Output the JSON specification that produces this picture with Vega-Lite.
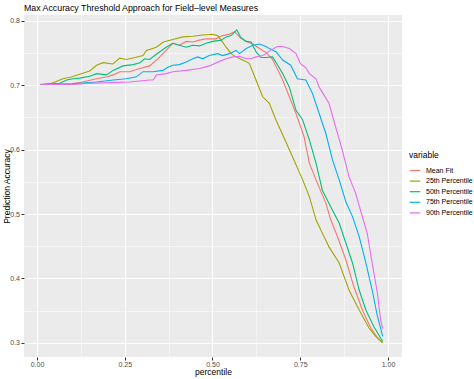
{
  "$schema": "https://vega.github.io/schema/vega-lite/v6.json",
  "width": 378,
  "height": 342,
  "autosize": {"type": "none"},
  "padding": {"left": 24, "top": 15, "right": 72, "bottom": 22},
  "background": "white",
  "title": {
    "text": "Max Accuracy Threshold Approach for Field–level Measures",
    "anchor": "start",
    "frame": "group",
    "fontSize": 8.8,
    "fontWeight": "normal",
    "font": "Liberation Sans",
    "color": "#000000",
    "baseline": "bottom",
    "offset": 2,
    "dy": 9
  },
  "data": {
    "values": [
      {"percentile":0.01,"value":0.701,"variable":"Mean Fit"},
      {"percentile":0.05,"value":0.701,"variable":"Mean Fit"},
      {"percentile":0.10,"value":0.702,"variable":"Mean Fit"},
      {"percentile":0.13,"value":0.705,"variable":"Mean Fit"},
      {"percentile":0.17,"value":0.710,"variable":"Mean Fit"},
      {"percentile":0.20,"value":0.713,"variable":"Mean Fit"},
      {"percentile":0.217,"value":0.716,"variable":"Mean Fit"},
      {"percentile":0.236,"value":0.721,"variable":"Mean Fit"},
      {"percentile":0.264,"value":0.721,"variable":"Mean Fit"},
      {"percentile":0.293,"value":0.726,"variable":"Mean Fit"},
      {"percentile":0.321,"value":0.730,"variable":"Mean Fit"},
      {"percentile":0.344,"value":0.741,"variable":"Mean Fit"},
      {"percentile":0.368,"value":0.754,"variable":"Mean Fit"},
      {"percentile":0.387,"value":0.765,"variable":"Mean Fit"},
      {"percentile":0.406,"value":0.762,"variable":"Mean Fit"},
      {"percentile":0.425,"value":0.768,"variable":"Mean Fit"},
      {"percentile":0.444,"value":0.767,"variable":"Mean Fit"},
      {"percentile":0.463,"value":0.770,"variable":"Mean Fit"},
      {"percentile":0.482,"value":0.772,"variable":"Mean Fit"},
      {"percentile":0.51,"value":0.772,"variable":"Mean Fit"},
      {"percentile":0.529,"value":0.777,"variable":"Mean Fit"},
      {"percentile":0.548,"value":0.779,"variable":"Mean Fit"},
      {"percentile":0.563,"value":0.783,"variable":"Mean Fit"},
      {"percentile":0.58,"value":0.773,"variable":"Mean Fit"},
      {"percentile":0.596,"value":0.768,"variable":"Mean Fit"},
      {"percentile":0.615,"value":0.764,"variable":"Mean Fit"},
      {"percentile":0.634,"value":0.757,"variable":"Mean Fit"},
      {"percentile":0.652,"value":0.751,"variable":"Mean Fit"},
      {"percentile":0.67,"value":0.741,"variable":"Mean Fit"},
      {"percentile":0.686,"value":0.724,"variable":"Mean Fit"},
      {"percentile":0.70,"value":0.708,"variable":"Mean Fit"},
      {"percentile":0.719,"value":0.682,"variable":"Mean Fit"},
      {"percentile":0.738,"value":0.656,"variable":"Mean Fit"},
      {"percentile":0.761,"value":0.620,"variable":"Mean Fit"},
      {"percentile":0.776,"value":0.579,"variable":"Mean Fit"},
      {"percentile":0.795,"value":0.553,"variable":"Mean Fit"},
      {"percentile":0.823,"value":0.517,"variable":"Mean Fit"},
      {"percentile":0.837,"value":0.491,"variable":"Mean Fit"},
      {"percentile":0.856,"value":0.465,"variable":"Mean Fit"},
      {"percentile":0.880,"value":0.429,"variable":"Mean Fit"},
      {"percentile":0.903,"value":0.387,"variable":"Mean Fit"},
      {"percentile":0.927,"value":0.351,"variable":"Mean Fit"},
      {"percentile":0.951,"value":0.323,"variable":"Mean Fit"},
      {"percentile":0.970,"value":0.308,"variable":"Mean Fit"},
      {"percentile":0.985,"value":0.300,"variable":"Mean Fit"},

      {"percentile":0.01,"value":0.701,"variable":"25th Percentile"},
      {"percentile":0.037,"value":0.702,"variable":"25th Percentile"},
      {"percentile":0.074,"value":0.710,"variable":"25th Percentile"},
      {"percentile":0.10,"value":0.713,"variable":"25th Percentile"},
      {"percentile":0.122,"value":0.717,"variable":"25th Percentile"},
      {"percentile":0.15,"value":0.722,"variable":"25th Percentile"},
      {"percentile":0.17,"value":0.731,"variable":"25th Percentile"},
      {"percentile":0.188,"value":0.735,"variable":"25th Percentile"},
      {"percentile":0.216,"value":0.733,"variable":"25th Percentile"},
      {"percentile":0.236,"value":0.742,"variable":"25th Percentile"},
      {"percentile":0.255,"value":0.740,"variable":"25th Percentile"},
      {"percentile":0.28,"value":0.743,"variable":"25th Percentile"},
      {"percentile":0.302,"value":0.746,"variable":"25th Percentile"},
      {"percentile":0.312,"value":0.754,"variable":"25th Percentile"},
      {"percentile":0.34,"value":0.759,"variable":"25th Percentile"},
      {"percentile":0.36,"value":0.767,"variable":"25th Percentile"},
      {"percentile":0.387,"value":0.771,"variable":"25th Percentile"},
      {"percentile":0.416,"value":0.775,"variable":"25th Percentile"},
      {"percentile":0.444,"value":0.776,"variable":"25th Percentile"},
      {"percentile":0.472,"value":0.778,"variable":"25th Percentile"},
      {"percentile":0.50,"value":0.779,"variable":"25th Percentile"},
      {"percentile":0.515,"value":0.777,"variable":"25th Percentile"},
      {"percentile":0.525,"value":0.770,"variable":"25th Percentile"},
      {"percentile":0.539,"value":0.759,"variable":"25th Percentile"},
      {"percentile":0.553,"value":0.749,"variable":"25th Percentile"},
      {"percentile":0.567,"value":0.744,"variable":"25th Percentile"},
      {"percentile":0.586,"value":0.739,"variable":"25th Percentile"},
      {"percentile":0.605,"value":0.734,"variable":"25th Percentile"},
      {"percentile":0.624,"value":0.708,"variable":"25th Percentile"},
      {"percentile":0.643,"value":0.682,"variable":"25th Percentile"},
      {"percentile":0.662,"value":0.672,"variable":"25th Percentile"},
      {"percentile":0.681,"value":0.646,"variable":"25th Percentile"},
      {"percentile":0.70,"value":0.623,"variable":"25th Percentile"},
      {"percentile":0.728,"value":0.589,"variable":"25th Percentile"},
      {"percentile":0.757,"value":0.553,"variable":"25th Percentile"},
      {"percentile":0.776,"value":0.527,"variable":"25th Percentile"},
      {"percentile":0.795,"value":0.491,"variable":"25th Percentile"},
      {"percentile":0.815,"value":0.468,"variable":"25th Percentile"},
      {"percentile":0.832,"value":0.449,"variable":"25th Percentile"},
      {"percentile":0.861,"value":0.424,"variable":"25th Percentile"},
      {"percentile":0.889,"value":0.382,"variable":"25th Percentile"},
      {"percentile":0.918,"value":0.351,"variable":"25th Percentile"},
      {"percentile":0.946,"value":0.323,"variable":"25th Percentile"},
      {"percentile":0.965,"value":0.310,"variable":"25th Percentile"},
      {"percentile":0.985,"value":0.300,"variable":"25th Percentile"},

      {"percentile":0.01,"value":0.701,"variable":"50th Percentile"},
      {"percentile":0.065,"value":0.703,"variable":"50th Percentile"},
      {"percentile":0.085,"value":0.708,"variable":"50th Percentile"},
      {"percentile":0.103,"value":0.710,"variable":"50th Percentile"},
      {"percentile":0.122,"value":0.711,"variable":"50th Percentile"},
      {"percentile":0.15,"value":0.714,"variable":"50th Percentile"},
      {"percentile":0.17,"value":0.718,"variable":"50th Percentile"},
      {"percentile":0.198,"value":0.716,"variable":"50th Percentile"},
      {"percentile":0.217,"value":0.723,"variable":"50th Percentile"},
      {"percentile":0.245,"value":0.730,"variable":"50th Percentile"},
      {"percentile":0.274,"value":0.732,"variable":"50th Percentile"},
      {"percentile":0.293,"value":0.735,"variable":"50th Percentile"},
      {"percentile":0.307,"value":0.741,"variable":"50th Percentile"},
      {"percentile":0.321,"value":0.740,"variable":"50th Percentile"},
      {"percentile":0.34,"value":0.748,"variable":"50th Percentile"},
      {"percentile":0.368,"value":0.759,"variable":"50th Percentile"},
      {"percentile":0.387,"value":0.765,"variable":"50th Percentile"},
      {"percentile":0.406,"value":0.762,"variable":"50th Percentile"},
      {"percentile":0.425,"value":0.759,"variable":"50th Percentile"},
      {"percentile":0.444,"value":0.762,"variable":"50th Percentile"},
      {"percentile":0.463,"value":0.761,"variable":"50th Percentile"},
      {"percentile":0.482,"value":0.765,"variable":"50th Percentile"},
      {"percentile":0.501,"value":0.768,"variable":"50th Percentile"},
      {"percentile":0.525,"value":0.770,"variable":"50th Percentile"},
      {"percentile":0.539,"value":0.775,"variable":"50th Percentile"},
      {"percentile":0.553,"value":0.777,"variable":"50th Percentile"},
      {"percentile":0.569,"value":0.786,"variable":"50th Percentile"},
      {"percentile":0.581,"value":0.774,"variable":"50th Percentile"},
      {"percentile":0.596,"value":0.768,"variable":"50th Percentile"},
      {"percentile":0.61,"value":0.767,"variable":"50th Percentile"},
      {"percentile":0.624,"value":0.752,"variable":"50th Percentile"},
      {"percentile":0.638,"value":0.743,"variable":"50th Percentile"},
      {"percentile":0.652,"value":0.743,"variable":"50th Percentile"},
      {"percentile":0.671,"value":0.744,"variable":"50th Percentile"},
      {"percentile":0.686,"value":0.731,"variable":"50th Percentile"},
      {"percentile":0.70,"value":0.718,"variable":"50th Percentile"},
      {"percentile":0.719,"value":0.697,"variable":"50th Percentile"},
      {"percentile":0.738,"value":0.661,"variable":"50th Percentile"},
      {"percentile":0.757,"value":0.646,"variable":"50th Percentile"},
      {"percentile":0.776,"value":0.615,"variable":"50th Percentile"},
      {"percentile":0.795,"value":0.579,"variable":"50th Percentile"},
      {"percentile":0.813,"value":0.537,"variable":"50th Percentile"},
      {"percentile":0.842,"value":0.506,"variable":"50th Percentile"},
      {"percentile":0.861,"value":0.486,"variable":"50th Percentile"},
      {"percentile":0.880,"value":0.455,"variable":"50th Percentile"},
      {"percentile":0.899,"value":0.424,"variable":"50th Percentile"},
      {"percentile":0.918,"value":0.382,"variable":"50th Percentile"},
      {"percentile":0.937,"value":0.351,"variable":"50th Percentile"},
      {"percentile":0.960,"value":0.325,"variable":"50th Percentile"},
      {"percentile":0.985,"value":0.302,"variable":"50th Percentile"},

      {"percentile":0.01,"value":0.701,"variable":"75th Percentile"},
      {"percentile":0.10,"value":0.702,"variable":"75th Percentile"},
      {"percentile":0.17,"value":0.705,"variable":"75th Percentile"},
      {"percentile":0.217,"value":0.708,"variable":"75th Percentile"},
      {"percentile":0.255,"value":0.710,"variable":"75th Percentile"},
      {"percentile":0.283,"value":0.713,"variable":"75th Percentile"},
      {"percentile":0.302,"value":0.721,"variable":"75th Percentile"},
      {"percentile":0.33,"value":0.721,"variable":"75th Percentile"},
      {"percentile":0.359,"value":0.723,"variable":"75th Percentile"},
      {"percentile":0.373,"value":0.728,"variable":"75th Percentile"},
      {"percentile":0.387,"value":0.731,"variable":"75th Percentile"},
      {"percentile":0.406,"value":0.732,"variable":"75th Percentile"},
      {"percentile":0.425,"value":0.736,"variable":"75th Percentile"},
      {"percentile":0.444,"value":0.741,"variable":"75th Percentile"},
      {"percentile":0.458,"value":0.744,"variable":"75th Percentile"},
      {"percentile":0.472,"value":0.741,"variable":"75th Percentile"},
      {"percentile":0.491,"value":0.746,"variable":"75th Percentile"},
      {"percentile":0.515,"value":0.749,"variable":"75th Percentile"},
      {"percentile":0.529,"value":0.746,"variable":"75th Percentile"},
      {"percentile":0.548,"value":0.749,"variable":"75th Percentile"},
      {"percentile":0.567,"value":0.754,"variable":"75th Percentile"},
      {"percentile":0.577,"value":0.749,"variable":"75th Percentile"},
      {"percentile":0.596,"value":0.757,"variable":"75th Percentile"},
      {"percentile":0.615,"value":0.762,"variable":"75th Percentile"},
      {"percentile":0.634,"value":0.764,"variable":"75th Percentile"},
      {"percentile":0.652,"value":0.760,"variable":"75th Percentile"},
      {"percentile":0.662,"value":0.757,"variable":"75th Percentile"},
      {"percentile":0.681,"value":0.752,"variable":"75th Percentile"},
      {"percentile":0.700,"value":0.739,"variable":"75th Percentile"},
      {"percentile":0.723,"value":0.731,"variable":"75th Percentile"},
      {"percentile":0.742,"value":0.710,"variable":"75th Percentile"},
      {"percentile":0.766,"value":0.708,"variable":"75th Percentile"},
      {"percentile":0.785,"value":0.687,"variable":"75th Percentile"},
      {"percentile":0.804,"value":0.656,"variable":"75th Percentile"},
      {"percentile":0.823,"value":0.625,"variable":"75th Percentile"},
      {"percentile":0.842,"value":0.584,"variable":"75th Percentile"},
      {"percentile":0.861,"value":0.553,"variable":"75th Percentile"},
      {"percentile":0.880,"value":0.519,"variable":"75th Percentile"},
      {"percentile":0.899,"value":0.496,"variable":"75th Percentile"},
      {"percentile":0.918,"value":0.465,"variable":"75th Percentile"},
      {"percentile":0.937,"value":0.424,"variable":"75th Percentile"},
      {"percentile":0.955,"value":0.382,"variable":"75th Percentile"},
      {"percentile":0.970,"value":0.341,"variable":"75th Percentile"},
      {"percentile":0.979,"value":0.323,"variable":"75th Percentile"},
      {"percentile":0.985,"value":0.310,"variable":"75th Percentile"},

      {"percentile":0.01,"value":0.701,"variable":"90th Percentile"},
      {"percentile":0.10,"value":0.701,"variable":"90th Percentile"},
      {"percentile":0.15,"value":0.703,"variable":"90th Percentile"},
      {"percentile":0.217,"value":0.704,"variable":"90th Percentile"},
      {"percentile":0.264,"value":0.705,"variable":"90th Percentile"},
      {"percentile":0.321,"value":0.708,"variable":"90th Percentile"},
      {"percentile":0.33,"value":0.708,"variable":"90th Percentile"},
      {"percentile":0.335,"value":0.711,"variable":"90th Percentile"},
      {"percentile":0.34,"value":0.716,"variable":"90th Percentile"},
      {"percentile":0.368,"value":0.718,"variable":"90th Percentile"},
      {"percentile":0.387,"value":0.721,"variable":"90th Percentile"},
      {"percentile":0.425,"value":0.723,"variable":"90th Percentile"},
      {"percentile":0.463,"value":0.726,"variable":"90th Percentile"},
      {"percentile":0.491,"value":0.730,"variable":"90th Percentile"},
      {"percentile":0.52,"value":0.737,"variable":"90th Percentile"},
      {"percentile":0.539,"value":0.741,"variable":"90th Percentile"},
      {"percentile":0.558,"value":0.744,"variable":"90th Percentile"},
      {"percentile":0.577,"value":0.745,"variable":"90th Percentile"},
      {"percentile":0.596,"value":0.741,"variable":"90th Percentile"},
      {"percentile":0.61,"value":0.741,"variable":"90th Percentile"},
      {"percentile":0.624,"value":0.744,"variable":"90th Percentile"},
      {"percentile":0.643,"value":0.746,"variable":"90th Percentile"},
      {"percentile":0.652,"value":0.749,"variable":"90th Percentile"},
      {"percentile":0.671,"value":0.756,"variable":"90th Percentile"},
      {"percentile":0.685,"value":0.760,"variable":"90th Percentile"},
      {"percentile":0.700,"value":0.760,"variable":"90th Percentile"},
      {"percentile":0.719,"value":0.757,"variable":"90th Percentile"},
      {"percentile":0.738,"value":0.749,"variable":"90th Percentile"},
      {"percentile":0.750,"value":0.734,"variable":"90th Percentile"},
      {"percentile":0.766,"value":0.727,"variable":"90th Percentile"},
      {"percentile":0.776,"value":0.718,"variable":"90th Percentile"},
      {"percentile":0.795,"value":0.710,"variable":"90th Percentile"},
      {"percentile":0.804,"value":0.697,"variable":"90th Percentile"},
      {"percentile":0.832,"value":0.672,"variable":"90th Percentile"},
      {"percentile":0.851,"value":0.635,"variable":"90th Percentile"},
      {"percentile":0.870,"value":0.599,"variable":"90th Percentile"},
      {"percentile":0.889,"value":0.558,"variable":"90th Percentile"},
      {"percentile":0.908,"value":0.532,"variable":"90th Percentile"},
      {"percentile":0.927,"value":0.496,"variable":"90th Percentile"},
      {"percentile":0.941,"value":0.470,"variable":"90th Percentile"},
      {"percentile":0.955,"value":0.424,"variable":"90th Percentile"},
      {"percentile":0.970,"value":0.377,"variable":"90th Percentile"},
      {"percentile":0.979,"value":0.336,"variable":"90th Percentile"},
      {"percentile":0.985,"value":0.322,"variable":"90th Percentile"}
    ]
  },
  "mark": {"type": "line", "strokeWidth": 1.1, "clip": true, "interpolate": "linear"},
  "encoding": {
    "x": {
      "field": "percentile",
      "type": "quantitative",
      "scale": {"domain": [-0.037, 1.04], "nice": false, "zero": false},
      "axis": {
        "title": "percentile",
        "values": [0, 0.125, 0.25, 0.375, 0.5, 0.625, 0.75, 0.875, 1],
        "labelExpr": "(datum.value*4) % 1 === 0 ? format(datum.value, '.2f') : ''",
        "gridWidth": {"condition": {"test": "(datum.value*4) % 1 === 0", "value": 1.1}, "value": 0.5},
        "tickOpacity": {"condition": {"test": "(datum.value*4) % 1 === 0", "value": 1}, "value": 0},
        "labelPadding": 0.5,
        "titlePadding": 0
      }
    },
    "y": {
      "field": "value",
      "type": "quantitative",
      "scale": {"domain": [0.278, 0.809], "nice": false, "zero": false},
      "axis": {
        "title": "Prediction Accuracy",
        "values": [0.3, 0.35, 0.4, 0.45, 0.5, 0.55, 0.6, 0.65, 0.7, 0.75, 0.8],
        "labelExpr": "round(datum.value*100) % 10 === 0 ? format(datum.value, '.1f') : ''",
        "gridWidth": {"condition": {"test": "round(datum.value*100) % 10 === 0", "value": 1.1}, "value": 0.5},
        "tickOpacity": {"condition": {"test": "round(datum.value*100) % 10 === 0", "value": 1}, "value": 0},
        "labelPadding": 1.5,
        "titleX": -18,
        "titleBaseline": "middle"
      }
    },
    "color": {
      "field": "variable",
      "type": "nominal",
      "scale": {
        "domain": ["Mean Fit", "25th Percentile", "50th Percentile", "75th Percentile", "90th Percentile"],
        "range": ["#F8766D", "#A3A500", "#00BF7D", "#00B0F6", "#E76BF3"]
      },
      "legend": {
        "title": "variable",
        "orient": "none",
        "legendX": 385,
        "legendY": 136,
        "symbolType": "stroke",
        "symbolSize": 110,
        "symbolStrokeWidth": 1.2,
        "rowPadding": 1.6,
        "labelFontSize": 7,
        "titleFontSize": 8.5,
        "titleFontWeight": "normal",
        "titleColor": "#000000",
        "labelColor": "#000000",
        "titlePadding": 5,
        "padding": 0,
        "labelOffset": 5
      }
    }
  },
  "config": {
    "font": "Liberation Sans",
    "view": {"fill": "#EBEBEB", "stroke": null},
    "axis": {
      "domain": false,
      "grid": true,
      "gridColor": "#FFFFFF",
      "tickColor": "#333333",
      "tickSize": 3,
      "tickWidth": 1,
      "labelColor": "#4D4D4D",
      "labelFontSize": 7,
      "labelFont": "Liberation Sans",
      "titleFont": "Liberation Sans",
      "titleFontSize": 8.5,
      "titleFontWeight": "normal",
      "titleColor": "#000000"
    },
    "legend": {"labelFont": "Liberation Sans", "titleFont": "Liberation Sans"}
  }
}
